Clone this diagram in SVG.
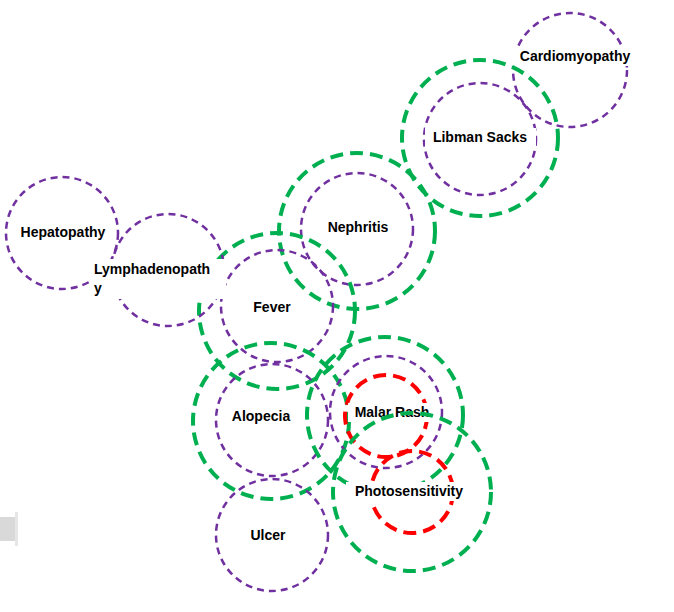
<svg xmlns="http://www.w3.org/2000/svg" width="674" height="612" viewBox="0 0 674 612">
<style>
.p{fill:none;stroke:#7030A0;stroke-width:2.5;stroke-dasharray:7 5}
.g{fill:none;stroke:#00B050;stroke-width:4;stroke-dasharray:13 7}
.r{fill:none;stroke:#FF0000;stroke-width:4;stroke-dasharray:13 7}
.bg{fill:#fff}
text{font-family:"Liberation Sans",Arial,sans-serif;font-weight:bold;font-size:14px;fill:#000}
</style>
<rect width="674" height="612" fill="#fff"/>
<rect x="0" y="517" width="15" height="24" fill="#d9d9d9"/>
<rect x="15" y="512" width="3" height="34" fill="#e6e6e6"/>
<g id="connectors"/>
<g id="cardiomyopathy"><circle class="p" cx="570" cy="70" r="57"/><rect class="bg" x="512" y="46" width="126" height="20"/><text x="575" y="61" text-anchor="middle">Cardiomyopathy</text></g>
<g id="libman"><circle class="g" cx="480" cy="138" r="78"/><circle class="p" cx="480" cy="139" r="56"/><rect class="bg" x="425" y="128" width="111" height="19"/><text x="480" y="142" text-anchor="middle">Libman Sacks</text></g>
<g id="nephritis"><circle class="g" cx="357" cy="231" r="78"/><circle class="p" cx="357" cy="229" r="56"/><rect class="bg" x="322" y="218" width="73" height="19"/><text x="358" y="232" text-anchor="middle">Nephritis</text></g>
<g id="hepatopathy"><circle class="p" cx="62" cy="233" r="56"/><rect class="bg" x="12" y="223" width="103" height="19"/><text x="63" y="237" text-anchor="middle">Hepatopathy</text></g>
<g id="fever"><circle class="g" cx="277" cy="311" r="78"/><circle class="p" cx="277" cy="306" r="56"/><rect class="bg" x="248" y="298" width="48" height="19"/><text x="272" y="312" text-anchor="middle">Fever</text></g>
<g id="lymph"><circle class="p" cx="168" cy="270" r="56"/><rect class="bg" x="92" y="259" width="134" height="40"/><text x="94" y="274">Lymphadenopath</text><text x="94" y="293">y</text></g>
<g id="alopecia"><circle class="g" cx="271" cy="421" r="78"/><circle class="p" cx="272" cy="420" r="56"/><rect class="bg" x="224" y="407" width="74" height="19"/><text x="261" y="421" text-anchor="middle">Alopecia</text></g>
<g id="malar"><circle class="g" cx="385" cy="415" r="78"/><circle class="p" cx="386" cy="412" r="56"/><circle class="r" cx="386" cy="416" r="41"/><rect class="bg" x="348" y="403" width="88" height="19"/><text x="392" y="417" text-anchor="middle">Malar Rash</text></g>
<g id="photo"><circle class="g" cx="412" cy="492" r="79"/><circle class="r" cx="412" cy="492" r="41"/><rect class="bg" x="346" y="482" width="126" height="19"/><text x="409" y="496" text-anchor="middle">Photosensitivity</text></g>
<g id="ulcer"><circle class="p" cx="272" cy="535" r="56"/><rect class="bg" x="245" y="526" width="48" height="19"/><text x="268" y="540" text-anchor="middle">Ulcer</text></g>
</svg>
